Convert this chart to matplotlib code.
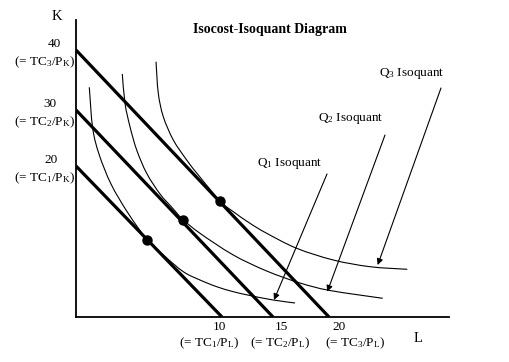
import numpy as np
import matplotlib
matplotlib.use("Agg")
import matplotlib.pyplot as plt
from matplotlib.path import Path
from matplotlib.patches import PathPatch

plt.rcParams['font.family'] = ['Liberation Serif', 'DejaVu Serif']
plt.rcParams['mathtext.fontset'] = 'custom'
plt.rcParams['mathtext.rm'] = 'Liberation Serif'
plt.rcParams['mathtext.it'] = 'Liberation Serif:italic'

# === Data (diagram units) ===
# isocost lines: K-intercept and L-intercept
isocost_k = [15.1, 20.7, 26.7]
isocost_l = [14.6, 19.7, 25.3]

# isoquants, points
q1_l = [1.33, 1.67, 2.33, 3.5, 5.0, 6.33, 7.1, 8.73, 10.73, 12.4, 14.07, 15.73, 17.4, 19.6, 21.9]
q1_k = [22.97, 18.87, 16.2, 13.3, 10.7, 8.75, 7.7, 6.2, 4.53, 3.7, 3.03, 2.53, 2.15, 1.72, 1.4]
q2_l = [4.63, 4.9, 5.4, 6.07, 7.07, 8.4, 9.6, 10.67, 12.4, 15.73, 19.07, 22.4, 25.4, 30.67]
q2_k = [24.3, 21.37, 19.03, 16.7, 14.37, 12.3, 10.95, 9.77, 8.37, 6.2, 4.6, 3.4, 2.65, 1.87]
q3_l = [8.0, 8.23, 8.73, 9.73, 11.07, 12.23, 14.43, 15.73, 17.4, 19.07, 22.07, 25.73, 29.4, 33.13]
q3_k = [25.53, 22.37, 20.03, 17.7, 15.7, 14.2, 11.57, 10.53, 9.37, 8.37, 6.87, 5.7, 5.03, 4.77]

# tangency points
tangent_l = [7.1, 10.7, 14.4]
tangent_k = [7.7, 9.75, 11.6]

k_ticks = ['20', '30', '40']
k_notes = [r'(= TC$_1$/P$_\mathrm{K}$)', r'(= TC$_2$/P$_\mathrm{K}$)', r'(= TC$_3$/P$_\mathrm{K}$)']
l_ticks = ['10', '15', '20']
l_notes = [r'(= TC$_1$/P$_\mathrm{L}$)', r'(= TC$_2$/P$_\mathrm{L}$)', r'(= TC$_3$/P$_\mathrm{L}$)']
q_labels = [r'Q$_1$ Isoquant', r'Q$_2$ Isoquant', r'Q$_3$ Isoquant']

W, H = 510, 362
fig = plt.figure(figsize=(W / 100, H / 100), dpi=100)
ax = fig.add_axes([76 / W, 45 / H, 373 / W, 297 / H])
ax.set_xlim(0, 37.3)
ax.set_ylim(0, 29.7)
for s in ['top', 'right']:
    ax.spines[s].set_visible(False)
for s in ['left', 'bottom']:
    ax.spines[s].set_linewidth(1.3)
ax.set_xticks([])
ax.set_yticks([])


def px(x, y):
    return x / W, 1 - y / H


def smooth_path(xs, ys):
    # cubic bezier through the read points (catmull-rom style handles)
    p = np.column_stack([xs, ys])
    verts = [p[0]]
    codes = [Path.MOVETO]
    for i in range(len(p) - 1):
        p0 = p[max(i - 1, 0)]
        p3 = p[min(i + 2, len(p) - 1)]
        c1 = p[i] + (p[i + 1] - p0) / 6
        c2 = p[i + 1] - (p3 - p[i]) / 6
        verts += [c1, c2, p[i + 1]]
        codes += [Path.CURVE4] * 3
    return Path(verts, codes)


# isocost lines
for k0, l0 in zip(isocost_k, isocost_l):
    ax.plot([0, l0], [k0, 0], color='black', lw=2.3, solid_capstyle='butt')

# isoquants
for ls, ks in [(q1_l, q1_k), (q2_l, q2_k), (q3_l, q3_k)]:
    ax.add_patch(PathPatch(smooth_path(ls, ks), facecolor='none',
                           edgecolor='black', lw=0.8))

ax.plot(tangent_l, tangent_k, 'o', color='black', ms=6.5)

# labels with arrows
label_pos = [(21.4, 15.4), (27.5, 19.9), (33.6, 24.4)]
arrow_from = [(25.1, 14.3), (30.9, 18.2), (36.5, 22.9)]
arrow_to = [(19.8, 1.7), (25.13, 2.53), (30.17, 5.2)]
for lab, pos, a0, a1 in zip(q_labels, label_pos, arrow_from, arrow_to):
    ax.text(pos[0], pos[1], lab, ha='center', va='center', fontsize=9.5)
    ax.annotate('', xy=a1, xytext=a0, annotation_clip=False,
                arrowprops=dict(arrowstyle='-|>', color='black', lw=0.8,
                                mutation_scale=9, shrinkA=0, shrinkB=0))

# axis annotations
fs = 9.5
fig.text(*px(270, 30), 'Isocost-Isoquant Diagram', ha='center', va='center',
         fontsize=10, fontweight='bold')
fig.text(*px(57, 17), 'K', ha='center', va='center', fontsize=10.5)
fig.text(*px(418, 338), 'L', ha='center', va='center', fontsize=10.5)

for t, n, yt, yn, xt in zip(k_ticks, k_notes, [160, 104, 44], [178, 122, 62], [51, 50, 54]):
    fig.text(*px(xt, yt), t, ha='center', va='center', fontsize=fs)
    fig.text(*px(45, yn), n, ha='center', va='center', fontsize=fs)

for t, n, xt, xn in zip(l_ticks, l_notes, [219, 281, 339], [209.5, 280, 355.3]):
    fig.text(*px(xt, 327), t, ha='center', va='center', fontsize=fs)
    fig.text(*px(xn, 343), n, ha='center', va='center', fontsize=fs)

fig.savefig('out.png', dpi=100)
